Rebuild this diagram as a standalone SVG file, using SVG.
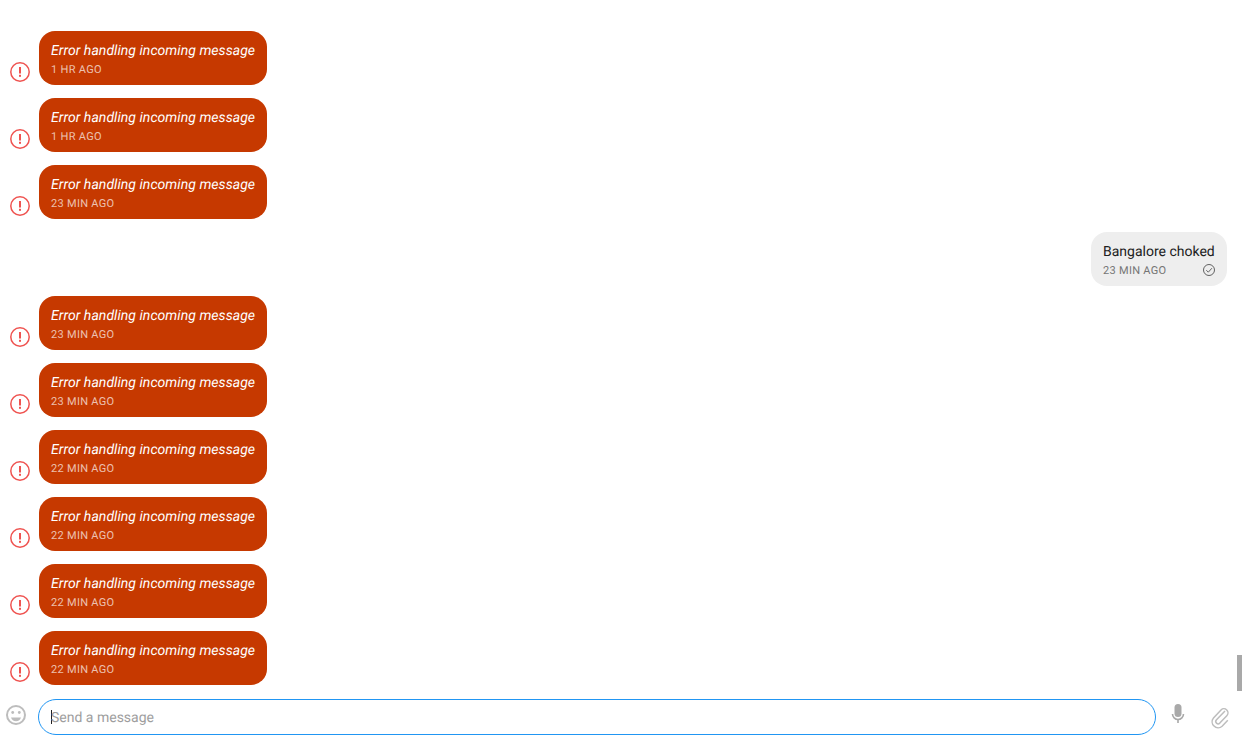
<svg xmlns="http://www.w3.org/2000/svg" width="1244" height="736" viewBox="0 0 1244 736">
<style>
text{font-family:Roboto,"Liberation Sans",sans-serif;text-rendering:geometricPrecision}
.b{fill:#c63900}
.m{font-size:14px;font-style:italic;fill:#fff;letter-spacing:.05px}
.t{font-size:11px;letter-spacing:.3px;fill:#fff;fill-opacity:.7}
.e{fill:none;stroke:#ef5350;stroke-width:1.5}
.x{font-size:14px;fill:#212121}
.g{font-size:11px;letter-spacing:.3px;fill:#757575}
.ic{fill:#9e9e9e}
</style>
<defs>
<g id="err"><circle cx="20" cy="0" r="9.2" class="e"/><rect x="19" y="-5" width="2" height="6.500" fill="#ef5350"/><rect x="19" y="2.800" width="2" height="2" fill="#ef5350"/></g>
</defs>
<rect width="1244" height="736" fill="#fff"/>
<g id="connectors"/>
<g id="msg1"><use href="#err" y="72"/><rect class="b" x="39" y="31" width="228" height="54" rx="16"/><text class="m" x="51" y="55">Error handling incoming message</text><text class="t" x="51" y="73">1 HR AGO</text></g>
<g id="msg2"><use href="#err" y="139"/><rect class="b" x="39" y="98" width="228" height="54" rx="16"/><text class="m" x="51" y="122">Error handling incoming message</text><text class="t" x="51" y="140">1 HR AGO</text></g>
<g id="msg3"><use href="#err" y="206"/><rect class="b" x="39" y="165" width="228" height="54" rx="16"/><text class="m" x="51" y="189">Error handling incoming message</text><text class="t" x="51" y="207">23 MIN AGO</text></g>
<g id="sent"><rect x="1091" y="232" width="136" height="54" rx="16" fill="#eeeeee"/><text class="x" x="1103" y="256">Bangalore choked</text><text class="g" x="1103" y="274">23 MIN AGO</text><circle cx="1209" cy="270" r="5.500" fill="none" stroke="#616161"/><path d="M1206.300 270.200l2 2 3.600-4" fill="none" stroke="#616161"/></g>
<g id="msg4"><use href="#err" y="337"/><rect class="b" x="39" y="296" width="228" height="54" rx="16"/><text class="m" x="51" y="320">Error handling incoming message</text><text class="t" x="51" y="338">23 MIN AGO</text></g>
<g id="msg5"><use href="#err" y="404"/><rect class="b" x="39" y="363" width="228" height="54" rx="16"/><text class="m" x="51" y="387">Error handling incoming message</text><text class="t" x="51" y="405">23 MIN AGO</text></g>
<g id="msg6"><use href="#err" y="471"/><rect class="b" x="39" y="430" width="228" height="54" rx="16"/><text class="m" x="51" y="454">Error handling incoming message</text><text class="t" x="51" y="472">22 MIN AGO</text></g>
<g id="msg7"><use href="#err" y="538"/><rect class="b" x="39" y="497" width="228" height="54" rx="16"/><text class="m" x="51" y="521">Error handling incoming message</text><text class="t" x="51" y="539">22 MIN AGO</text></g>
<g id="msg8"><use href="#err" y="605"/><rect class="b" x="39" y="564" width="228" height="54" rx="16"/><text class="m" x="51" y="588">Error handling incoming message</text><text class="t" x="51" y="606">22 MIN AGO</text></g>
<g id="msg9"><use href="#err" y="672"/><rect class="b" x="39" y="631" width="228" height="54" rx="16"/><text class="m" x="51" y="655">Error handling incoming message</text><text class="t" x="51" y="673">22 MIN AGO</text></g>
<g id="scrollbar"><rect x="1237" y="655" width="5" height="36" fill="#a9a9a9"/></g>
<g id="emoji"><circle cx="16" cy="715" r="9" fill="none" stroke="#bdbdbd" stroke-width="2"/><circle cx="12.700" cy="712.500" r="1.400" fill="#bdbdbd"/><circle cx="19.300" cy="712.500" r="1.400" fill="#bdbdbd"/><path d="M11 717.500h10a5.200 5 0 0 1-10 0z" fill="#bdbdbd"/></g>
<g id="input"><rect x="38.500" y="699.500" width="1117" height="35" rx="17.500" fill="#fff" stroke="#2196f3"/><rect x="51" y="710" width="1" height="14" fill="#212121"/><text x="51" y="722" font-size="14" fill="#9e9e9e">Send a message</text></g>
<g id="mic"><rect x="1174.500" y="704" width="7" height="13" rx="3.500" fill="#a9a9a9"/><path d="M1172.500 714a5.500 5.500 0 0 0 11 0" fill="none" stroke="#a9a9a9" stroke-width="1.600"/><rect x="1177.200" y="719.500" width="1.600" height="3.500" fill="#a9a9a9"/></g>
<g id="attach"><path d="M1226.500 712.500l-8.500 8.800a2.300 2.300 0 0 0 3.300 3.300l7-7.400a4 4 0 0 0-5.800-5.700l-7.500 8a6 6 0 0 0 8.600 8.300l5.700-6" transform="translate(-1.500 -1.500)" fill="none" stroke="#bdbdbd" stroke-width="1.500"/></g>
</svg>
